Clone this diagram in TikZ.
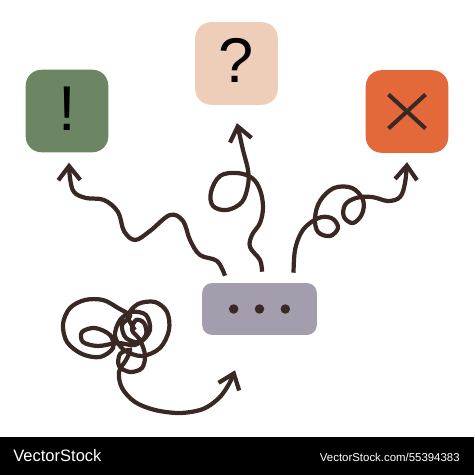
\documentclass[tikz,border=0pt]{standalone}
\usepackage{fontspec}
\setmainfont{Liberation Sans}
\usetikzlibrary{positioning,calc,arrows.meta}
\definecolor{sage}{HTML}{6C8563}
\definecolor{peach}{HTML}{EECDB9}
\definecolor{rust}{HTML}{E4693A}
\definecolor{lilac}{HTML}{A39DAE}
\definecolor{ink}{HTML}{3A2825}
\tikzset{
  icon/.style={rounded corners=9pt, minimum size=47pt, inner sep=0pt},
  glyph/.style={inner sep=0pt, font=\fontsize{36}{36}\selectfont},
  squiggle/.style={draw=ink, line width=2.4pt, -{Straight Barb[length=8pt,width=12.5pt]}},
  dot/.style={circle, fill=ink, minimum size=5.4pt, inner sep=0pt},
}
\begin{document}
\begin{tikzpicture}[x=0.02cm,y=-0.02cm]
\useasboundingbox (0,0) rectangle (474,475);
%% nodes
\node[icon, fill=sage] (warn) at (67,111) {};
\node[glyph] (bang) at (67,108.5) {!};
\node[icon, fill=peach] (ask) at (236.5,63.5) {};
\node[glyph] (qmark) at (236.5,60) {?};
\node[icon, fill=rust] (stop) at (407,111.5) {};
\draw[ink, line width=2.3pt] ($(stop.center)+(-18.5,-17)$) -- ($(stop.center)+(18.5,17)$);
\draw[ink, line width=2.3pt] ($(stop.center)+(18.5,-17)$) -- ($(stop.center)+(-18.5,17)$);
\node[fill=lilac, rounded corners=5.5pt, minimum width=65.2pt, minimum height=29.5pt] (wait) at (259.5,309) {};
\node[dot] (d2) at (wait.center) {};
\node[dot, left=8.9pt of d2] (d1) {};
\node[dot, right=8.9pt of d2] (d3) {};
%% ends
\coordinate (s1) at ($(wait.north)+(-34.5,-7)$);
\coordinate (s2) at ($(wait.north)+(2.5,-11)$);
\coordinate (s3) at ($(wait.north)+(34,-10)$);
\coordinate (t1) at ($(warn.south)+(2,10)$);
\coordinate (t2) at ($(ask.south)+(0.5,18)$);
\coordinate (t3) at ($(stop.south)+(0,9)$);
\coordinate (knot) at ($(wait.south)+(-24.5,35)$);
%%% edges
\draw[squiggle] plot[smooth, tension=0.6] coordinates {(s1) (217,261) (200,255) (190,240) (183,221) (170,215) (150,231) (135,240) (124,231) (118,212) (104,200) (86,198) (74,192) (70,178) (t1)};
\draw[squiggle] plot[smooth, tension=0.6] coordinates {(s2) (260,260) (250,247) (252,235) (260,223) (263,207) (260,190) (252,178) (237,173) (220,176) (211,192) (213,206) (227,210) (242,202) (248,185) (248,170) (243,150) (t2)};
\draw[squiggle] plot[smooth, tension=0.6] coordinates {(s3) (295,250) (301,233) (310,223) (322,217) (333,219) (338,228) (330,236) (318,232) (315,218) (320,201) (334,188) (352,188) (363,200) (362,214) (353,223) (344,217) (345,205) (356,198) (372,197) (388,201) (400,197) (405,183) (t3)};
%%% scribble
\draw[squiggle] plot[smooth, tension=0.55] coordinates {(135,330) (128,316) (138,304) (155,302) (167,312) (169,330) (160,348) (142,356) (124,350) (115,336) (120,320) (132,312) (146,315) (150,330) (140,342) (126,338) (122,325) (130,316) (118,308) (103,300) (85,300) (70,308) (63,324) (67,342) (82,354) (100,357) (113,348) (110,335) (95,328) (82,332) (83,342) (98,346) (118,343) (135,345) (146,335) (144,323) (136,320) (132,330) (140,340) (145,355) (142,368) (130,372) (119,366) (120,354) (130,350) (126,360) (119,372) (122,388) (135,402) (155,410) (180,413) (203,409) (219,398) (229,384) (knot)};
%% footer
\fill[black] (0,437) rectangle (474,475);
\node[anchor=west, inner sep=0pt, text=white, font=\fontsize{9.4}{10}\selectfont] (brand) at (13,456) {VectorStock};
\node[anchor=east, inner sep=0pt, text=white, font=\fontsize{6.5}{8}\selectfont] (url) at (460,457) {VectorStock.com/55394383};
\end{tikzpicture}
\end{document}
